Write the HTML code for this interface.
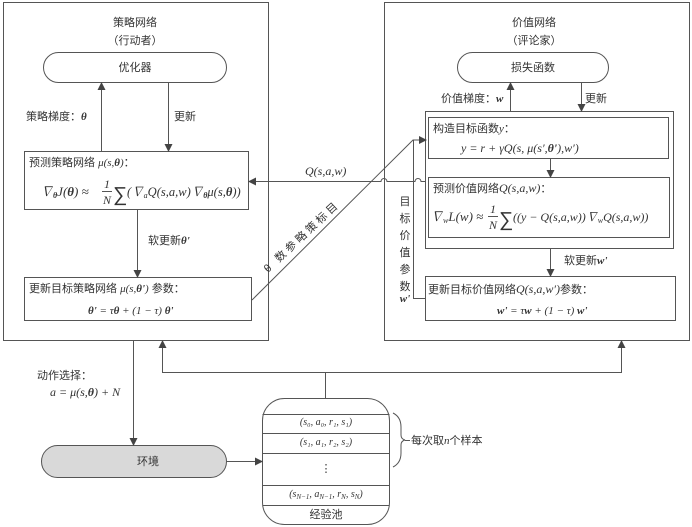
<!DOCTYPE html>
<html><head><meta charset="utf-8"><style>
html,body{margin:0;padding:0;background:#fff;}
svg{display:block;font-family:"Liberation Sans","Noto Sans CJK SC",sans-serif;font-size:11px;}
text{fill:#333;}
.m{font-family:"Liberation Serif","Noto Serif CJK SC",serif;font-style:italic;}
</style></head><body>
<svg width="692" height="527" viewBox="0 0 692 527" xmlns="http://www.w3.org/2000/svg">
<defs><marker id="a" markerWidth="8" markerHeight="8" refX="7" refY="4" orient="auto" markerUnits="userSpaceOnUse"><path d="M0,0 L8,4 L0,8 z" fill="#444"/></marker></defs>
<g fill="none" stroke="#555" stroke-width="1">
<rect x="3.5" y="2.5" width="265" height="338"/>
<rect x="384.5" y="2.5" width="305" height="338"/>
<rect x="43.5" y="52.5" width="183" height="30" rx="15"/>
<rect x="457.5" y="52.5" width="151" height="30" rx="15"/>
<rect x="24.5" y="151.5" width="224" height="58"/>
<rect x="24.5" y="277.5" width="227" height="43"/>
<rect x="425.5" y="111.5" width="248" height="137"/>
<rect x="428.5" y="117.5" width="240" height="41"/>
<rect x="428.5" y="177.5" width="241" height="60"/>
<rect x="425.5" y="276.5" width="250" height="44"/>
<rect x="262.5" y="398.5" width="127" height="126" rx="22"/>
<line x1="262.5" y1="414.5" x2="389.5" y2="414.5"/>
<line x1="262.5" y1="433.5" x2="389.5" y2="433.5"/>
<line x1="262.5" y1="453.5" x2="389.5" y2="453.5"/>
<line x1="262.5" y1="485.5" x2="389.5" y2="485.5"/>
<line x1="262.5" y1="505.5" x2="389.5" y2="505.5"/>
<line x1="102" y1="191.5" x2="112" y2="191.5"/>
<line x1="488" y1="216.5" x2="498" y2="216.5"/>
</g>
<rect x="41.5" y="445.5" width="185" height="32" rx="16" fill="#d9d9d9" stroke="#555"/>
<g stroke="#555" stroke-width="1" fill="none">
<line x1="101.5" y1="151" x2="101.5" y2="83" marker-end="url(#a)"/>
<line x1="168.5" y1="83" x2="168.5" y2="151" marker-end="url(#a)"/>
<line x1="137.5" y1="210" x2="137.5" y2="277" marker-end="url(#a)"/>
<line x1="510.5" y1="111" x2="510.5" y2="83" marker-end="url(#a)"/>
<line x1="581.5" y1="83" x2="581.5" y2="111" marker-end="url(#a)"/>
<line x1="550.5" y1="159" x2="550.5" y2="177" marker-end="url(#a)"/>
<line x1="550.5" y1="249" x2="550.5" y2="276" marker-end="url(#a)"/>
<path d="M425,181.5 H421 a3,3 0 0 0 -6,0 H387 a3,3 0 0 0 -6,0 H249" marker-end="url(#a)"/>
<path d="M252,300 L413,140 H426" marker-end="url(#a)"/>
<path d="M425,298.5 H413.5 V140"/>
<line x1="133.5" y1="341" x2="133.5" y2="445" marker-end="url(#a)"/>
<line x1="227" y1="461.5" x2="262" y2="461.5" marker-end="url(#a)"/>
<path d="M325.5,398 V372.5 H162.5 V341" marker-end="url(#a)"/>
<path d="M325.5,372.5 H621.5 V341" marker-end="url(#a)"/>
<path d="M393,413 q8,4 8,14 v8 q0,4 4,5 q-4,1 -4,5 v8 q0,10 -8,14"/>
<line x1="405" y1="440.5" x2="410" y2="440.5"/>
</g>
<g text-anchor="middle">
<text x="135" y="26">策略网络</text>
<text x="135" y="44">（行动者）</text>
<text x="135" y="71">优化器</text>
<text x="534" y="26">价值网络</text>
<text x="534" y="44">（评论家）</text>
<text x="533" y="71">损失函数</text>
<text x="148" y="465">环境</text>
<text x="326" y="425" class="m" font-size="10">(s₀, a₀, r₁, s₁)</text>
<text x="326" y="445" class="m" font-size="10">(s₁, a₁, r₂, s₂)</text>
<text x="326" y="472">⋮</text>
<text x="326" y="497" class="m" font-size="10">(s<tspan font-size="7" dy="2">N−1</tspan><tspan dy="-2">, a</tspan><tspan font-size="7" dy="2">N−1</tspan><tspan dy="-2">, r</tspan><tspan font-size="7" dy="2">N</tspan><tspan dy="-2">, s</tspan><tspan font-size="7" dy="2">N</tspan><tspan dy="-2">)</tspan></text>
<text x="326" y="518">经验池</text>
<text x="107" y="188" class="m" font-size="12" font-style="normal">1</text>
<text x="107" y="204" class="m" font-size="12">N</text>
<text x="493" y="213" class="m" font-size="12" font-style="normal">1</text>
<text x="493" y="229" class="m" font-size="12">N</text>
</g>
<text x="29" y="166">预测策略网络 <tspan class="m">μ(s,<tspan font-weight="bold">θ</tspan>)</tspan>：</text>
<text x="40" y="196" class="m" font-size="13">∇<tspan font-size="8" dy="2" font-weight="bold">θ</tspan><tspan dy="-2">J(<tspan font-weight="bold">θ</tspan>) ≈</tspan></text>
<text x="113" y="201" font-size="20">∑</text>
<text x="127" y="196" class="m" font-size="12.5">(∇<tspan font-size="8" dy="2">a</tspan><tspan dy="-2">Q(s,a,w)∇</tspan><tspan font-size="8" dy="2" font-weight="bold">θ</tspan><tspan dy="-2">μ(s,<tspan font-weight="bold">θ</tspan>))</tspan></text>
<text x="26" y="120">策略梯度：<tspan font-weight="bold" class="m">θ</tspan></text>
<text x="174" y="120">更新</text>
<text x="148" y="244">软更新<tspan font-weight="bold" class="m">θ'</tspan></text>
<text x="29" y="292">更新目标策略网络 <tspan class="m">μ(s,<tspan font-weight="bold">θ'</tspan>)</tspan> 参数：</text>
<text x="88" y="314" class="m"><tspan font-weight="bold">θ'</tspan> = τ<tspan font-weight="bold">θ</tspan> + (1 − τ) <tspan font-weight="bold">θ'</tspan></text>
<text x="441" y="102">价值梯度：<tspan class="m" font-weight="bold">w</tspan></text>
<text x="585" y="102">更新</text>
<text x="433" y="132">构造目标函数<tspan class="m">y</tspan>：</text>
<text x="461" y="152" class="m" font-size="12">y = r + γQ(s, μ(s′,<tspan font-weight="bold">θ'</tspan>),w′)</text>
<text x="433" y="192">预测价值网络<tspan class="m" font-size="12">Q(s,a,w)</tspan>：</text>
<text x="430" y="221" class="m" font-size="13">∇<tspan font-size="8" dy="2">w</tspan><tspan dy="-2">L(w) ≈</tspan></text>
<text x="499" y="226" font-size="20">∑</text>
<text x="513" y="221" class="m" font-size="12">((y − Q(s,a,w))∇<tspan font-size="8" dy="2">w</tspan><tspan dy="-2">Q(s,a,w))</tspan></text>
<text x="564" y="264">软更新<tspan class="m" font-weight="bold">w'</tspan></text>
<text x="428" y="293">更新目标价值网络<tspan class="m" font-size="12">Q(s,a,w′)</tspan>参数：</text>
<text x="497" y="314" class="m"><tspan font-weight="bold">w'</tspan> = τ<tspan font-weight="bold">w</tspan> + (1 − τ) <tspan font-weight="bold">w'</tspan></text>
<text x="305" y="175" class="m" font-size="12">Q(s,a,w)</text>
<g text-anchor="middle">
<text x="405" y="205">目</text><text x="405" y="222">标</text><text x="405" y="239">价</text><text x="405" y="256">值</text><text x="405" y="273">参</text><text x="405" y="290">数</text><text x="405" y="302" class="m" font-weight="bold">w'</text>
</g>
<text x="0" y="0" transform="translate(268,273) rotate(-43)" letter-spacing="3">θ 数参略策标目</text>
<text x="37" y="379">动作选择：</text>
<text x="50" y="396" class="m" font-size="12">a = μ(s,<tspan font-weight="bold">θ</tspan>) + N</text>
<text x="411" y="444">每次取<tspan class="m">n</tspan>个样本</text>
</svg>
</body></html>
